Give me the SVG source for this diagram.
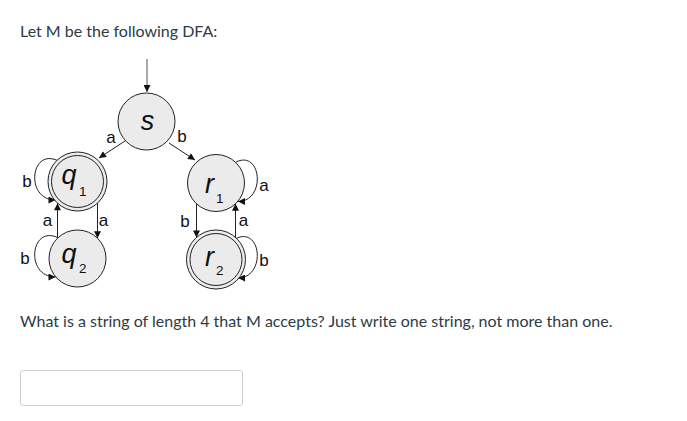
<svg xmlns="http://www.w3.org/2000/svg" width="687" height="421" viewBox="0 0 687 421">
<style>
.page{font-family:Lato,"Liberation Sans",sans-serif;font-size:16px;fill:#2d3b45}
.st{fill:#ebebeb;stroke:#222;stroke-width:1}
.lbl{font-family:"Liberation Sans",Arial,sans-serif;font-size:27px;font-style:italic;fill:#111}
.sub{font-family:"Liberation Sans",Arial,sans-serif;font-size:13.5px;fill:#111}
.el{font-family:"Liberation Sans",Arial,sans-serif;font-size:17px;fill:#111;text-anchor:middle}
.e{fill:none;stroke:#222;stroke-width:1;marker-end:url(#ah)}
</style>
<defs>
<marker id="ah" viewBox="0 0 10 10" refX="10" refY="5" markerWidth="9" markerHeight="7" markerUnits="userSpaceOnUse" orient="auto">
<path d="M0,0 L10,5 L0,10 z" fill="#111"/>
</marker>
</defs>
<rect width="687" height="421" fill="#fff"/>
<text class="page" x="20" y="37">Let M be the following DFA:</text>
<text class="page" x="20" y="327">What is a string of length 4 that M accepts? Just write one string, not more than one.</text>
<rect x="20.5" y="370.5" width="222" height="35" rx="3" fill="#fff" stroke="#c7cdd1"/>

<g id="connectors">
<line x1="147" y1="59" x2="147" y2="92" class="e" style="stroke:#555"/>
<line x1="125" y1="141" x2="99" y2="158" class="e"/>
<line x1="169" y1="143" x2="195" y2="160" class="e"/>
<line x1="97.5" y1="203.2" x2="97.5" y2="238.2" class="e"/>
<line x1="57.5" y1="238.2" x2="57.5" y2="203.2" class="e"/>
<line x1="196.5" y1="203.8" x2="196.5" y2="237.4" class="e"/>
<line x1="235.5" y1="237.4" x2="235.5" y2="203.8" class="e"/>
<path d="M57.5,160.5 C30,148 25,200 55.5,200" class="e"/>
<path d="M57.5,237.5 C30,225 25,277 55.5,277" class="e"/>
<path d="M236,162 C262,149.5 266,201.5 238,201.5" class="e"/>
<path d="M236,238.5 C262,226 266,278 238,278" class="e"/>
<text class="el" x="111" y="143">a</text>
<text class="el" x="182" y="142">b</text>
<text class="el" x="47.5" y="226">a</text>
<text class="el" x="103.5" y="226">a</text>
<text class="el" x="27" y="187">b</text>
<text class="el" x="25" y="264">b</text>
<text class="el" x="185" y="227">b</text>
<text class="el" x="243.5" y="226">a</text>
<text class="el" x="264" y="191">a</text>
<text class="el" x="264" y="266">b</text>
</g>

<g id="s">
<circle cx="146.5" cy="121.5" r="28.5" class="st"/>
<text class="lbl" x="147.5" y="130" text-anchor="middle">s</text>
</g>
<g id="q1">
<circle cx="77.5" cy="181.5" r="29.5" class="st"/>
<circle cx="77.5" cy="181.5" r="26" class="st"/>
<text class="lbl" x="61.5" y="184">q</text>
<text class="sub" x="79" y="196">1</text>
</g>
<g id="q2">
<circle cx="77.5" cy="258.5" r="28.5" class="st"/>
<text class="lbl" x="61.5" y="263">q</text>
<text class="sub" x="79" y="273">2</text>
</g>
<g id="r1">
<circle cx="216" cy="183" r="28.5" class="st"/>
<text class="lbl" x="205" y="193">r</text>
<text class="sub" x="216" y="203">1</text>
</g>
<g id="r2">
<circle cx="216" cy="259.5" r="29.5" class="st"/>
<circle cx="216" cy="259.5" r="26" class="st"/>
<text class="lbl" x="205" y="266">r</text>
<text class="sub" x="216" y="275">2</text>
</g>
</svg>
